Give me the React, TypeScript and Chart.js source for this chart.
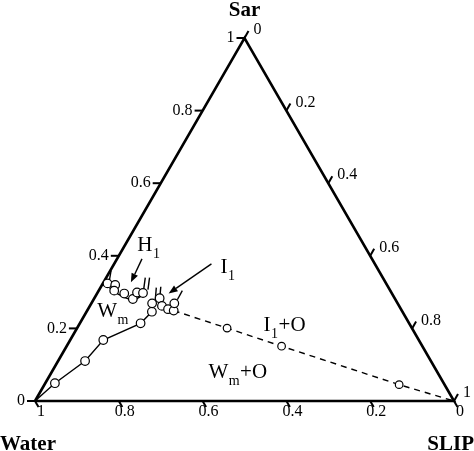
import React, { useEffect, useRef } from 'react';
import { Chart, registerables } from 'chart.js';
Chart.register(...registerables);

const S3 = Math.sqrt(3) / 2;

// All compositions are [Sar, SLIP] mass fractions; Water = 1 - Sar - SLIP
const triangle = [[0, 0], [0, 1], [1, 0], [0, 0]];
const wmBoundary = [[0, 0], [0.049, 0.023], [0.110, 0.0645], [0.168, 0.079], [0.214, 0.145], [0.246, 0.156], [0.269, 0.145], [0.283, 0.156]];
const i1Points = [[0.262, 0.172], [0.253, 0.191], [0.249, 0.2065], [0.269, 0.198]];
const h1Points = [[0.324, 0.011], [0.3196, 0.0316], [0.304, 0.037], [0.296, 0.065], [0.281, 0.093], [0.299, 0.094], [0.2975, 0.109]];
const tieLine = [[0.249, 0.2065], [0.2008, 0.358], [0.151, 0.513], [0.045, 0.8466], [0, 1]];
const h1Outline = [[0.359, 0.002], [0.3287, 0.0127], [0.3094, 0.0247], [0.2956, 0.0484], [0.2845, 0.073], [0.2762, 0.0963], [0.2873, 0.1075], [0.3094, 0.1049], [0.3398, 0.0933]];
const h1Edge2 = [[0.3398, 0.1035], [0.3066, 0.1163]];
const i1Edge1 = [[0.3122, 0.1334], [0.279, 0.1476]];
const i1Edge2 = [[0.3149, 0.1428], [0.2845, 0.1556]];
const i1Edge3 = [[0.3039, 0.1997], [0.279, 0.2002]];

const tickValues = [0, 0.2, 0.4, 0.6, 0.8, 1];
const tickLabels = ['0', '0.2', '0.4', '0.6', '0.8', '1'];
const axisTitles = ['Sar', 'Water', 'SLIP'];

// arrows: [from, to]
const arrows = [
  [[0.3914, 0.0596], [0.3268, 0.0655]],
  [[0.3776, 0.2323], [0.2964, 0.1707]],
];
// region labels: [main, sub, rest, anchor]
const regionLabels: [string, string, string, number[]][] = [
  ['H', '1', '', [0.4144, 0.0368]],
  ['I', '1', '', [0.3536, 0.2658]],
  ['W', 'm', '', [0.2307, 0.033]],
  ['I', '1', '+O', [0.1934, 0.4488]],
  ['W', 'm', '+O', [0.0635, 0.3821]],
];

const toXY = (p: number[]) => ({ x: p[1] + p[0] / 2, y: p[0] * S3 });

const decor = {
  id: 'decor',
  afterDatasetsDraw(chart: any) {
    const ctx = chart.ctx as CanvasRenderingContext2D;
    const xs = chart.scales.x, ys = chart.scales.y;
    const px = (p: number[]) => {
      const q = toXY(p);
      return [xs.getPixelForValue(q.x), ys.getPixelForValue(q.y)];
    };
    ctx.save();
    ctx.strokeStyle = '#000';
    ctx.fillStyle = '#000';
    ctx.lineWidth = 2;
    ctx.font = '16px "Liberation Serif"';
    tickValues.forEach((v, i) => {
      // left axis: Sar
      let [x, y] = px([v, 0]);
      ctx.beginPath(); ctx.moveTo(x, y); ctx.lineTo(x - 8, y); ctx.stroke();
      ctx.textAlign = 'right'; ctx.textBaseline = 'middle';
      ctx.fillText(tickLabels[i], x - 10, y);
      // bottom axis: Water
      [x, y] = px([0, 1 - v]);
      ctx.beginPath(); ctx.moveTo(x, y); ctx.lineTo(x + 3.5, y + 6); ctx.stroke();
      ctx.textAlign = 'center'; ctx.textBaseline = 'middle';
      ctx.fillText(tickLabels[i], x + 6, y + 11);
      // right axis: SLIP
      [x, y] = px([1 - v, v]);
      ctx.beginPath(); ctx.moveTo(x, y); ctx.lineTo(x + 4, y - 7); ctx.stroke();
      ctx.textAlign = 'left'; ctx.textBaseline = 'middle';
      ctx.fillText(tickLabels[i], x + 9, y - 8);
    });
    // axis titles
    ctx.font = 'bold 21px "Liberation Serif"';
    ctx.textBaseline = 'alphabetic';
    const top = px([1, 0]);
    ctx.textAlign = 'center';
    ctx.fillText(axisTitles[0], top[0], 16);
    ctx.textAlign = 'left';
    ctx.fillText(axisTitles[1], 0, 450);
    ctx.textAlign = 'right';
    ctx.fillText(axisTitles[2], 474, 450);
    // arrows
    ctx.lineWidth = 1.4;
    arrows.forEach(([a, b]) => {
      const [x1, y1] = px(a), [x2, y2] = px(b);
      const ang = Math.atan2(y2 - y1, x2 - x1);
      const L = 9, W = 3.5;
      const bx = x2 - L * Math.cos(ang), by = y2 - L * Math.sin(ang);
      ctx.beginPath(); ctx.moveTo(x1, y1); ctx.lineTo(bx, by); ctx.stroke();
      ctx.beginPath();
      ctx.moveTo(x2, y2);
      ctx.lineTo(bx + W * Math.sin(ang), by - W * Math.cos(ang));
      ctx.lineTo(bx - W * Math.sin(ang), by + W * Math.cos(ang));
      ctx.closePath(); ctx.fill();
    });
    // region labels
    ctx.textAlign = 'left'; ctx.textBaseline = 'alphabetic';
    regionLabels.forEach(([main, sub, rest, p]) => {
      let [x, y] = px(p);
      ctx.font = '21px "Liberation Serif"';
      ctx.fillText(main, x, y);
      x += ctx.measureText(main).width;
      ctx.font = '14px "Liberation Serif"';
      ctx.fillText(sub, x + 0.5, y + 7);
      x += ctx.measureText(sub).width + 1;
      ctx.font = '21px "Liberation Serif"';
      if (rest) ctx.fillText(rest, x, y);
    });
    ctx.restore();
  },
};

export default function App() {
  const ref = useRef<HTMLCanvasElement>(null);
  useEffect(() => {
    document.body.style.margin = '0';
    const line = (pts: number[][], extra: any = {}) => ({
      data: pts.map(toXY),
      showLine: true,
      borderColor: '#000',
      borderWidth: 1.4,
      pointRadius: 0,
      clip: false,
      ...extra,
    });
    const markers = (pts: number[][], r: number) => ({
      data: pts.map(toXY),
      showLine: false,
      pointRadius: r,
      pointBackgroundColor: '#fff',
      pointBorderColor: '#000',
      pointBorderWidth: 1.2,
      clip: false,
      order: 0,
    });
    const chart = new Chart(ref.current as HTMLCanvasElement, {
      type: 'scatter',
      data: {
        datasets: [
          line(triangle, { borderWidth: 2.6, order: 5 }),
          line(h1Outline, { order: 3 }),
          line(h1Edge2, { order: 3 }),
          line(i1Edge1, { order: 3 }),
          line(i1Edge2, { order: 3 }),
          line(i1Edge3, { order: 3 }),
          line(tieLine, {
            borderDash: [6, 5], borderWidth: 1.4, order: 2,
            pointRadius: tieLine.map((_, i) => (i === 0 || i === tieLine.length - 1 ? 0 : 3.8)),
            pointBackgroundColor: '#fff', pointBorderColor: '#000', pointBorderWidth: 1.2,
          }),
          line(wmBoundary, {
            order: 1,
            pointRadius: wmBoundary.map((_, i) => (i === 0 ? 0 : 4.3)),
            pointBackgroundColor: '#fff', pointBorderColor: '#000', pointBorderWidth: 1.2,
          }),
          markers(h1Points, 4.3),
          markers(i1Points, 4.3),
        ] as any,
      },
      options: {
        animation: false,
        responsive: false,
        devicePixelRatio: 1,
        layout: { padding: { left: 35, right: 20, top: 38, bottom: 50 } },
        scales: {
          x: { type: 'linear', min: 0, max: 1, display: false },
          y: { type: 'linear', min: 0, max: S3, display: false },
        },
        plugins: { legend: { display: false }, tooltip: { enabled: false } },
      },
      plugins: [decor],
    });
    return () => chart.destroy();
  }, []);
  return (
    <div style={{ width: 474, height: 451, position: 'relative' }}>
      <canvas ref={ref} width={474} height={451} style={{ display: 'block', width: 474, height: 451 }} />
    </div>
  );
}
